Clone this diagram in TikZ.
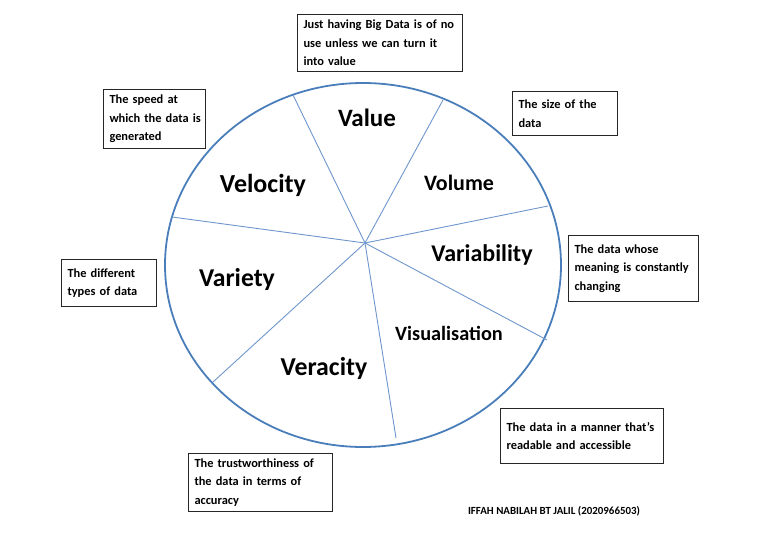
\documentclass[tikz,border=0pt]{standalone}
\usepackage{fontspec}
\setmainfont{Carlito}
\usetikzlibrary{shapes.geometric}
\definecolor{wheelblue}{RGB}{74,126,187}
\definecolor{spokeblue}{RGB}{110,150,205}
\newcommand{\noteline}[1]{\mbox{#1}}
\tikzset{
  word/.style={font=\fontsize{#1}{#1}\selectfont\bfseries, inner sep=0pt},
  note/.style={draw=black!85, line width=1pt, rectangle, anchor=north west,
    inner xsep=6pt, inner ysep=0pt, align=left,
    font=\fontsize{12.4}{18.5}\selectfont\bfseries},
  spoke/.style={draw=spokeblue, line width=0.9pt}
}
\begin{document}
\begin{tikzpicture}[x=1pt,y=-1pt]
\useasboundingbox (0,0) rectangle (768,543);
% wheel
\node[draw=wheelblue, line width=1.8pt, ellipse, minimum width=396pt, minimum height=364pt, inner sep=0pt] (wheel) at (363,265) {};
% spokes
\coordinate (hub) at (365,243);
\coordinate (p1) at (293,95);
\coordinate (p2) at (443,100);
\coordinate (p3) at (548,206);
\coordinate (p4) at (547,340);
\coordinate (p5) at (396,438);
\coordinate (p6) at (213,382);
\coordinate (p7) at (172,217);
\foreach \p in {p1,p2,p3,p4,p5,p6,p7} \draw[spoke] (hub) -- (\p);
% sector labels
\node[word=25] (value) at (367,118) {Value};
\node[word=26] (velocity) at (263,185) {Velocity};
\node[word=22] (volume) at (459,183) {Volume};
\node[word=24] (variability) at (482,255) {Variability};
\node[word=25.7] (variety) at (237,280) {Variety};
\node[word=20.3] (visual) at (449,333) {Visualisation};
\node[word=25.8] (veracity) at (324,368) {Veracity};
% notes
\node[note, minimum width=165pt, minimum height=57pt, text width=153pt] (nvalue) at (297,14)
  {\noteline{Just having Big Data is of no}\\\noteline{use unless we can turn it}\\\noteline{into value}};
\node[note, minimum width=102pt, minimum height=59pt, text width=90pt] (nvelocity) at (103,89)
  {\noteline{The speed at}\\\noteline{which the data is}\\\noteline{generated}};
\node[note, minimum width=105pt, minimum height=44pt, text width=93pt] (nvolume) at (512,91)
  {\noteline{The size of the}\\\noteline{data}};
\node[note, minimum width=130pt, minimum height=66pt, text width=118pt] (nvariability) at (568,235)
  {\noteline{The data whose}\\\noteline{meaning is constantly}\\\noteline{changing}};
\node[note, minimum width=95pt, minimum height=47pt, text width=83pt] (nvariety) at (61,259)
  {\noteline{The different}\\\noteline{types of data}};
\node[note, minimum width=163pt, minimum height=55pt, text width=151pt] (nvisual) at (500,408)
  {\noteline{The data in a manner that’s}\\\noteline{readable and accessible}};
\node[note, minimum width=144pt, minimum height=58pt, text width=132pt] (nveracity) at (188,453)
  {\noteline{The trustworthiness of}\\\noteline{the data in terms of}\\\noteline{accuracy}};
% author
\node[font=\fontsize{10.9}{13}\selectfont\bfseries, inner sep=0pt] (author) at (554,511) {IFFAH NABILAH BT JALIL (2020966503)};
\end{tikzpicture}
\end{document}
